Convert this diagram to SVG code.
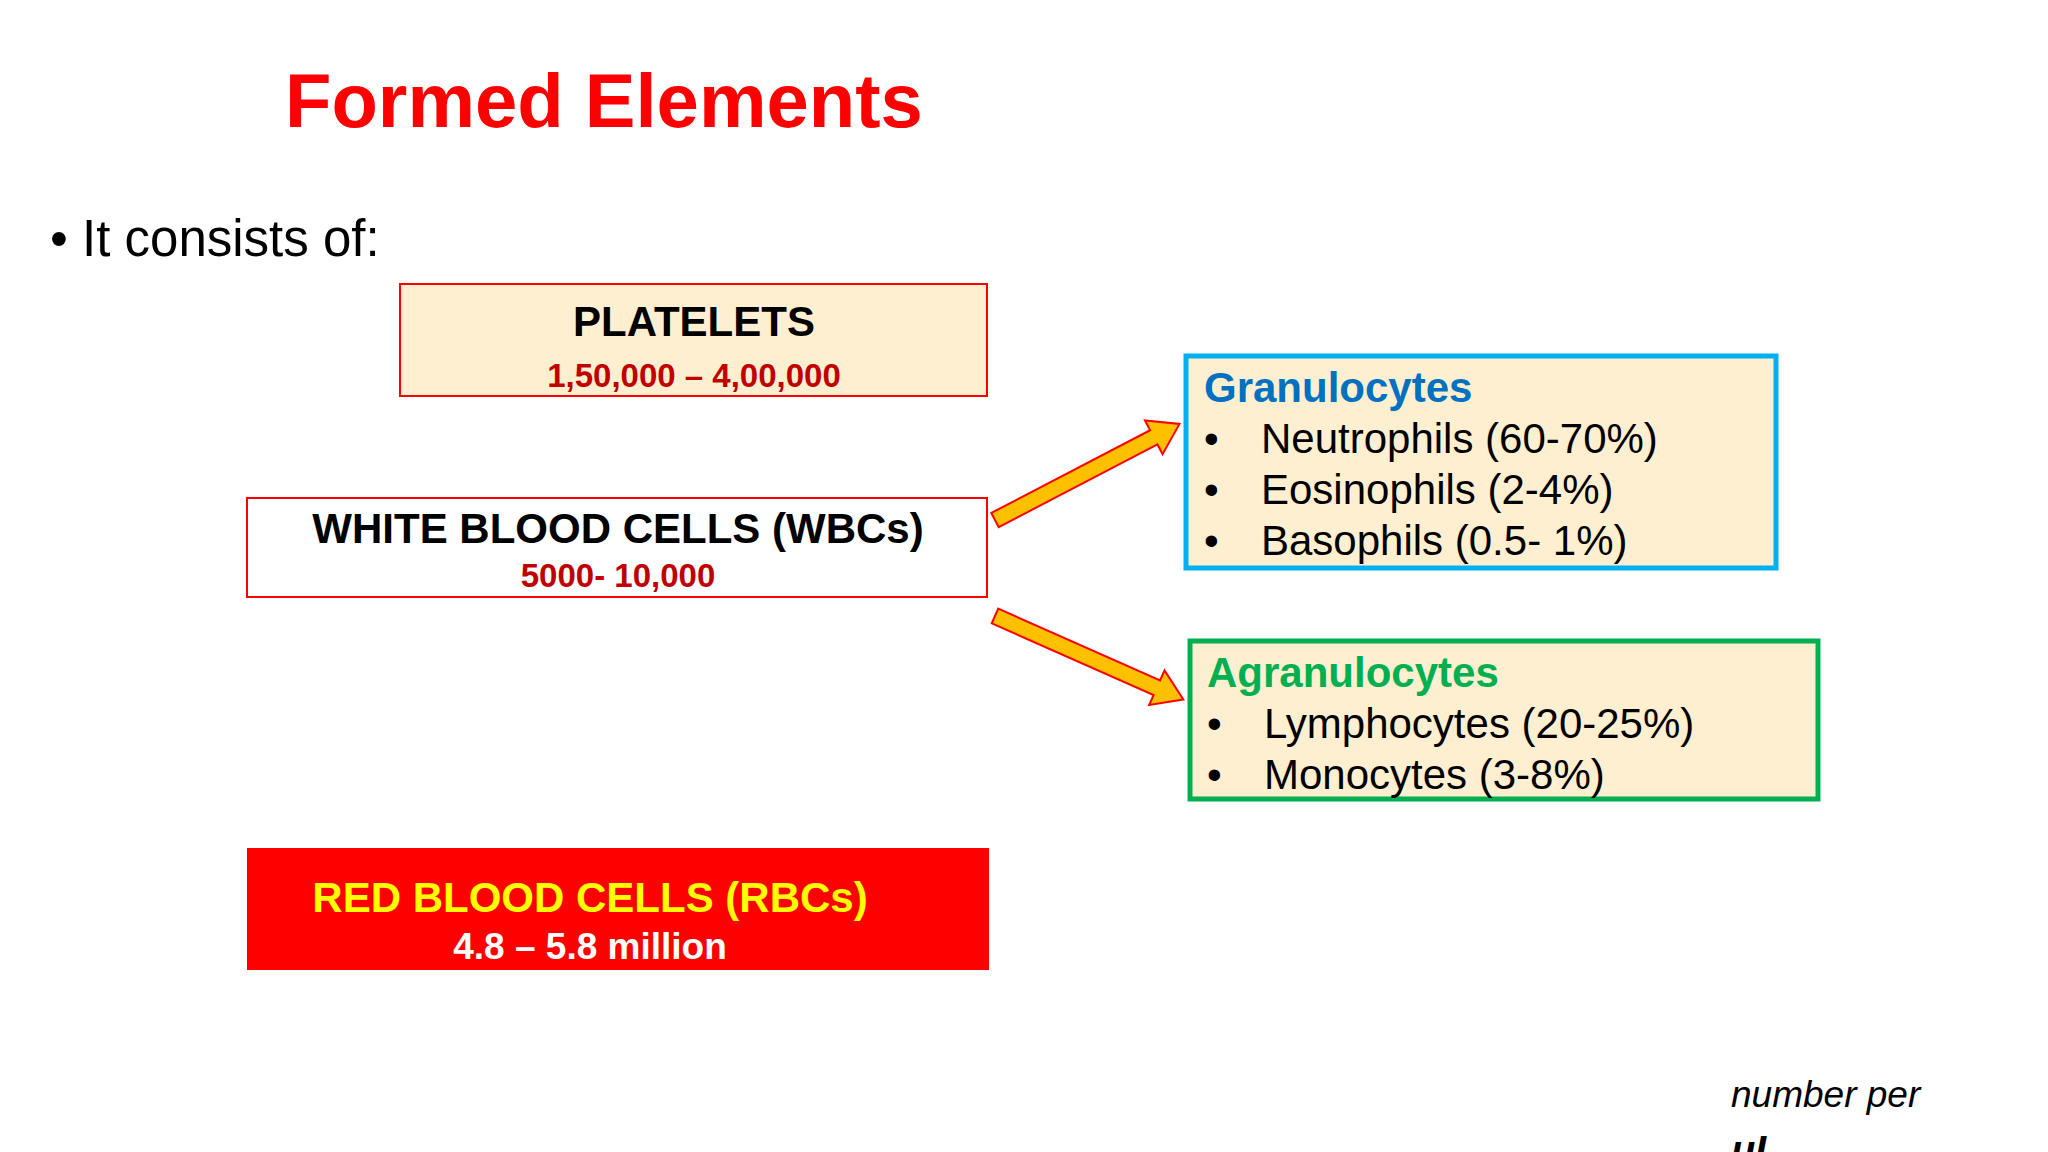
<svg xmlns="http://www.w3.org/2000/svg" width="2048" height="1152" viewBox="0 0 2048 1152">
<style>
text{font-family:"Liberation Sans",Arial,sans-serif}
.b{font-weight:bold}
.box{fill:#fdefcf;stroke:#ff0000;stroke-width:2}
.num{fill:#c00000;font-size:33px;font-weight:bold;text-anchor:middle}
.hd{font-size:42px;font-weight:bold;text-anchor:middle;fill:#000}
.li{font-size:42px;fill:#000}
.arr{fill:#ffc000;stroke:#ff0000;stroke-width:2}
</style>
<rect width="2048" height="1152" fill="#fff"/>
<text x="285" y="127" class="b" font-size="76" fill="#ff0000">Formed Elements</text>
<text x="50" y="256" font-size="51" fill="#000">• It consists of:</text>
<g id="platelets">
<rect class="box" x="400" y="284" width="587" height="112"/>
<text class="hd" x="694" y="336">PLATELETS</text>
<text class="num" x="694" y="387">1,50,000 – 4,00,000</text>
</g>
<g id="wbc">
<rect x="247" y="498" width="740" height="99" fill="#fff" stroke="#ff0000" stroke-width="2"/>
<text class="hd" x="618" y="543">WHITE BLOOD CELLS (WBCs)</text>
<text class="num" x="618" y="587">5000- 10,000</text>
</g>
<g id="rbc">
<rect x="247" y="848" width="742" height="122" fill="#ff0000"/>
<text class="hd" x="590" y="912" style="fill:#ffff00">RED BLOOD CELLS (RBCs)</text>
<text x="590" y="959" font-size="37" font-weight="bold" fill="#fff" text-anchor="middle">4.8 – 5.8 million</text>
</g>
<g id="granulocytes">
<rect x="1186" y="356" width="590" height="212" fill="#fdefcf" stroke="#00b0f0" stroke-width="5"/>
<text x="1204" y="402" font-size="42" font-weight="bold" fill="#0070c0">Granulocytes</text>
<text class="li" x="1204" y="453">•</text><text class="li" x="1261" y="453">Neutrophils (60-70%)</text>
<text class="li" x="1204" y="504">•</text><text class="li" x="1261" y="504">Eosinophils (2-4%)</text>
<text class="li" x="1204" y="555">•</text><text class="li" x="1261" y="555">Basophils (0.5- 1%)</text>
</g>
<g id="agranulocytes">
<rect x="1190" y="641" width="628" height="158" fill="#fdefcf" stroke="#00b050" stroke-width="5"/>
<text x="1207" y="687" font-size="42" font-weight="bold" fill="#00b050">Agranulocytes</text>
<text class="li" x="1207" y="738">•</text><text class="li" x="1264" y="738">Lymphocytes (20-25%)</text>
<text class="li" x="1207" y="789">•</text><text class="li" x="1264" y="789">Monocytes (3-8%)</text>
</g>
<g id="connectors">
<g transform="translate(995,520) rotate(-27.5)"><polygon class="arr" points="0,-8 179,-8 179,-19 208,0 179,19 179,8 0,8"/></g>
<g transform="translate(995,616) rotate(23.9)"><polygon class="arr" points="0,-8 177,-8 177,-19 206,0 177,19 177,8 0,8"/></g>
</g>
<text x="1731" y="1107" font-size="37" font-style="italic" fill="#000">number per</text>
<text x="1731" y="1164" font-size="40" font-style="italic" font-weight="bold" fill="#000">μL</text>
</svg>
